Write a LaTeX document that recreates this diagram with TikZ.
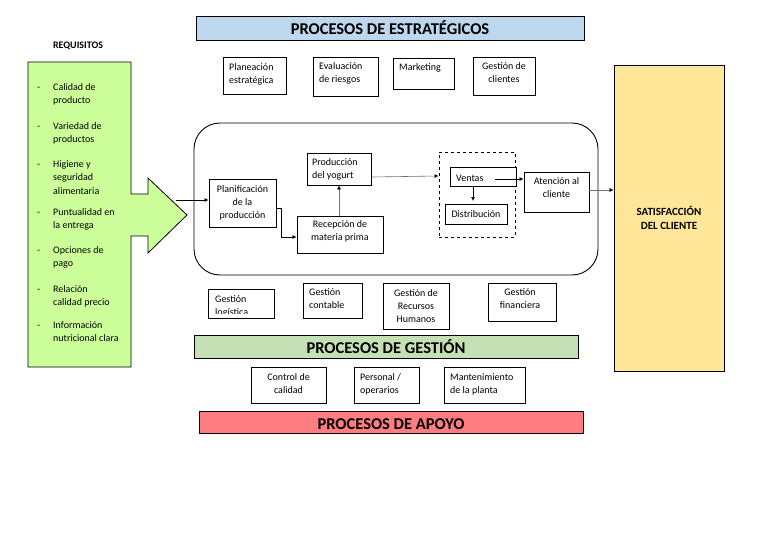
\documentclass[tikz,border=0pt]{standalone}
\usepackage{fontspec}
\setmainfont{Carlito}
\usetikzlibrary{arrows.meta}
\definecolor{reqgreen}{HTML}{CCFF99}
\definecolor{stratblue}{HTML}{BDD7EE}
\definecolor{gestgreen}{HTML}{C5E0B4}
\definecolor{apoyored}{HTML}{FF7C80}
\definecolor{satgold}{HTML}{FFE699}
\definecolor{lgray}{HTML}{707070}
\tikzset{
  box/.style={draw=black, line width=0.8pt, inner sep=0pt, fill=white, font=\fontsize{10}{13}\selectfont, align=center},
  txt/.style={inner sep=0pt, font=\fontsize{10}{13}\selectfont, align=left},
  bigtitle/.style={draw=black, line width=0.8pt, font=\fontsize{16.5}{19}\selectfont\bfseries, text height=14pt, text depth=0pt},
  arr/.style={draw=black, line width=0.7pt, -{Latex[length=4pt,width=4pt]}},
  garr/.style={draw=lgray, line width=0.6pt, -{Latex[length=4pt,width=4pt,color=black]}},
}
\begin{document}
\begin{tikzpicture}[x=1pt,y=-1pt]
\useasboundingbox (0,0) rectangle (768,543);

% Requisitos arrow
\node[font=\fontsize{10}{12}\selectfont\bfseries, inner sep=0pt] (reqtitle) at (78,46) {REQUISITOS};
\draw[line width=0.8pt, fill=reqgreen] (28,62) -- (131,62) -- (131,194) -- (148,194) -- (148,178) -- (187,215) -- (148,253) -- (148,236) -- (131,236) -- (131,367) -- (28,367) -- cycle;
\foreach \y/\t [count=\i] in {87/{Calidad de\\producto}, 126/{Variedad de\\productos}, 164/{Higiene y\\seguridad\\alimentaria}, 212/{Puntualidad en\\la entrega}, 250/{Opciones de\\pago}, 289/{Relación\\calidad precio}, 325/{Información\\nutricional clara}}{
  \node[txt, anchor=west] (dash\i) at (37,\y+1.5) {-};
  \node[txt, anchor=north west, font=\fontsize{10}{13.3}\selectfont] (req\i) at (53,\y-3.5) {\t};
}
\coordinate (reqout) at (176,200);

% Strategic
\node[bigtitle, fill=stratblue, minimum width=388pt, minimum height=24pt] (hstrat) at (390,28) {PROCESOS DE ESTRATÉGICOS};
\node[box, minimum width=63pt, minimum height=37pt] (plan) at (254.5,75.5) {};
\node[txt, anchor=north west] (plant) at (229,63.5) {Planeación\\estratégica};
\node[box, minimum width=65pt, minimum height=39pt] (eval) at (345.5,76.5) {};
\node[txt, anchor=north west] (evalt) at (319,62.5) {Evaluación\\de riesgos};
\node[box, minimum width=61pt, minimum height=31pt] (mkt) at (423.5,73.5) {};
\node[txt, anchor=north west] (mktt) at (399,63.5) {Marketing};
\node[box, minimum width=62pt, minimum height=38pt] (gcli) at (504,76) {};
\node[txt, anchor=north, align=center] (gclit) at (504,62.5) {Gestión de\\clientes};

% Main process
\draw[line width=0.9pt, rounded corners=26pt] (194,123) rectangle (598,275);
\node[box, minimum width=67pt, minimum height=48pt] (planif) at (242.5,203) {Planificación\\de la\\producción};
\node[box, minimum width=86pt, minimum height=37pt] (recep) at (340,234.5) {};
\node[txt, anchor=north, align=center] (recept) at (340,220.5) {Recepción de\\materia prima};
\node[box, minimum width=64pt, minimum height=32pt] (prod) at (339,169) {};
\node[txt, anchor=north west] (prodt) at (312,158.5) {Producción\\del yogurt};
\node[draw=black, line width=0.9pt, dashed, minimum width=76pt, minimum height=85pt, inner sep=0pt] (dbox) at (477,194.5) {};
\node[box, minimum width=66pt, minimum height=19pt] (ventas) at (483,176.5) {};
\node[txt, anchor=west] (ventast) at (456,178) {Ventas};
\node[box, minimum width=62pt, minimum height=20pt] (distrib) at (476,214) {Distribución};
\node[box, minimum width=65pt, minimum height=40pt] (aten) at (556.5,192) {};
\node[txt, anchor=north, align=center] (atent) at (556.5,177.5) {Atención al\\cliente};

% Satisfaction
\node[draw=black, line width=0.8pt, fill=satgold, minimum width=110pt, minimum height=306pt, inner sep=0pt, align=center, font=\fontsize{11}{13.5}\selectfont\bfseries] (satisf) at (669,218) {SATISFACCIÓN\\DEL CLIENTE};

% connectors
\draw[arr] (reqout) -- (reqout -| planif.west);
\draw[arr] ([yshift=-5pt]planif.east) -- ++(5,0) |- ([yshift=-2.5pt]recep.west);
\draw[garr] (prod.south |- recep.north) -- (prod.south);
\draw[garr] ([yshift=-8pt]prod.east) -- (dbox.west |- 0,176);
\coordinate (vstart) at (495,179);
\draw[arr] (vstart) -- (aten.west |- vstart);
\coordinate (vdown) at (473,186);
\coordinate (vdownend) at (473,201);
\draw[arr] (vdown) -- (vdownend);
\coordinate (aout) at ([yshift=2pt]aten.east);
\draw[garr] (aout) -- (aout -| satisf.west);

% Gestion
\node[box, minimum width=66pt, minimum height=29pt] (glog) at (241,303.5) {};
\begin{scope}
\clip (209,290) rectangle (273,313.5);
\node[txt, anchor=north west] (glogt) at (215,295) {Gestión\\logística};
\end{scope}
\node[box, minimum width=59pt, minimum height=35pt] (gcont) at (332.5,300.5) {};
\node[txt, anchor=north west] (gcontt) at (309,288) {Gestión\\contable};
\node[box, minimum width=66pt, minimum height=46pt] (grh) at (416,306) {Gestión de\\Recursos\\Humanos};
\node[box, minimum width=68pt, minimum height=38pt] (gfin) at (522,302) {};
\node[txt, anchor=north, align=center] (gfint) at (520,288) {Gestión\\financiera};
\node[bigtitle, fill=gestgreen, minimum width=384pt, minimum height=23pt] (hgest) at (386,346.5) {PROCESOS DE GESTIÓN};

% Apoyo
\node[box, minimum width=75pt, minimum height=36pt] (ctrl) at (288.5,385) {};
\node[txt, anchor=north, align=center] (ctrlt) at (288.5,373) {Control de\\calidad};
\node[box, minimum width=65pt, minimum height=36pt] (pers) at (386.5,385) {};
\node[txt, anchor=north west] (perst) at (360,373) {Personal /\\operarios};
\node[box, minimum width=81pt, minimum height=36pt] (mant) at (484.5,385) {};
\node[txt, anchor=north west] (mantt) at (450,373) {Mantenimiento\\de la planta};
\node[bigtitle, fill=apoyored, minimum width=384pt, minimum height=22pt] (hapoyo) at (391,422) {PROCESOS DE APOYO};
\end{tikzpicture}
\end{document}
